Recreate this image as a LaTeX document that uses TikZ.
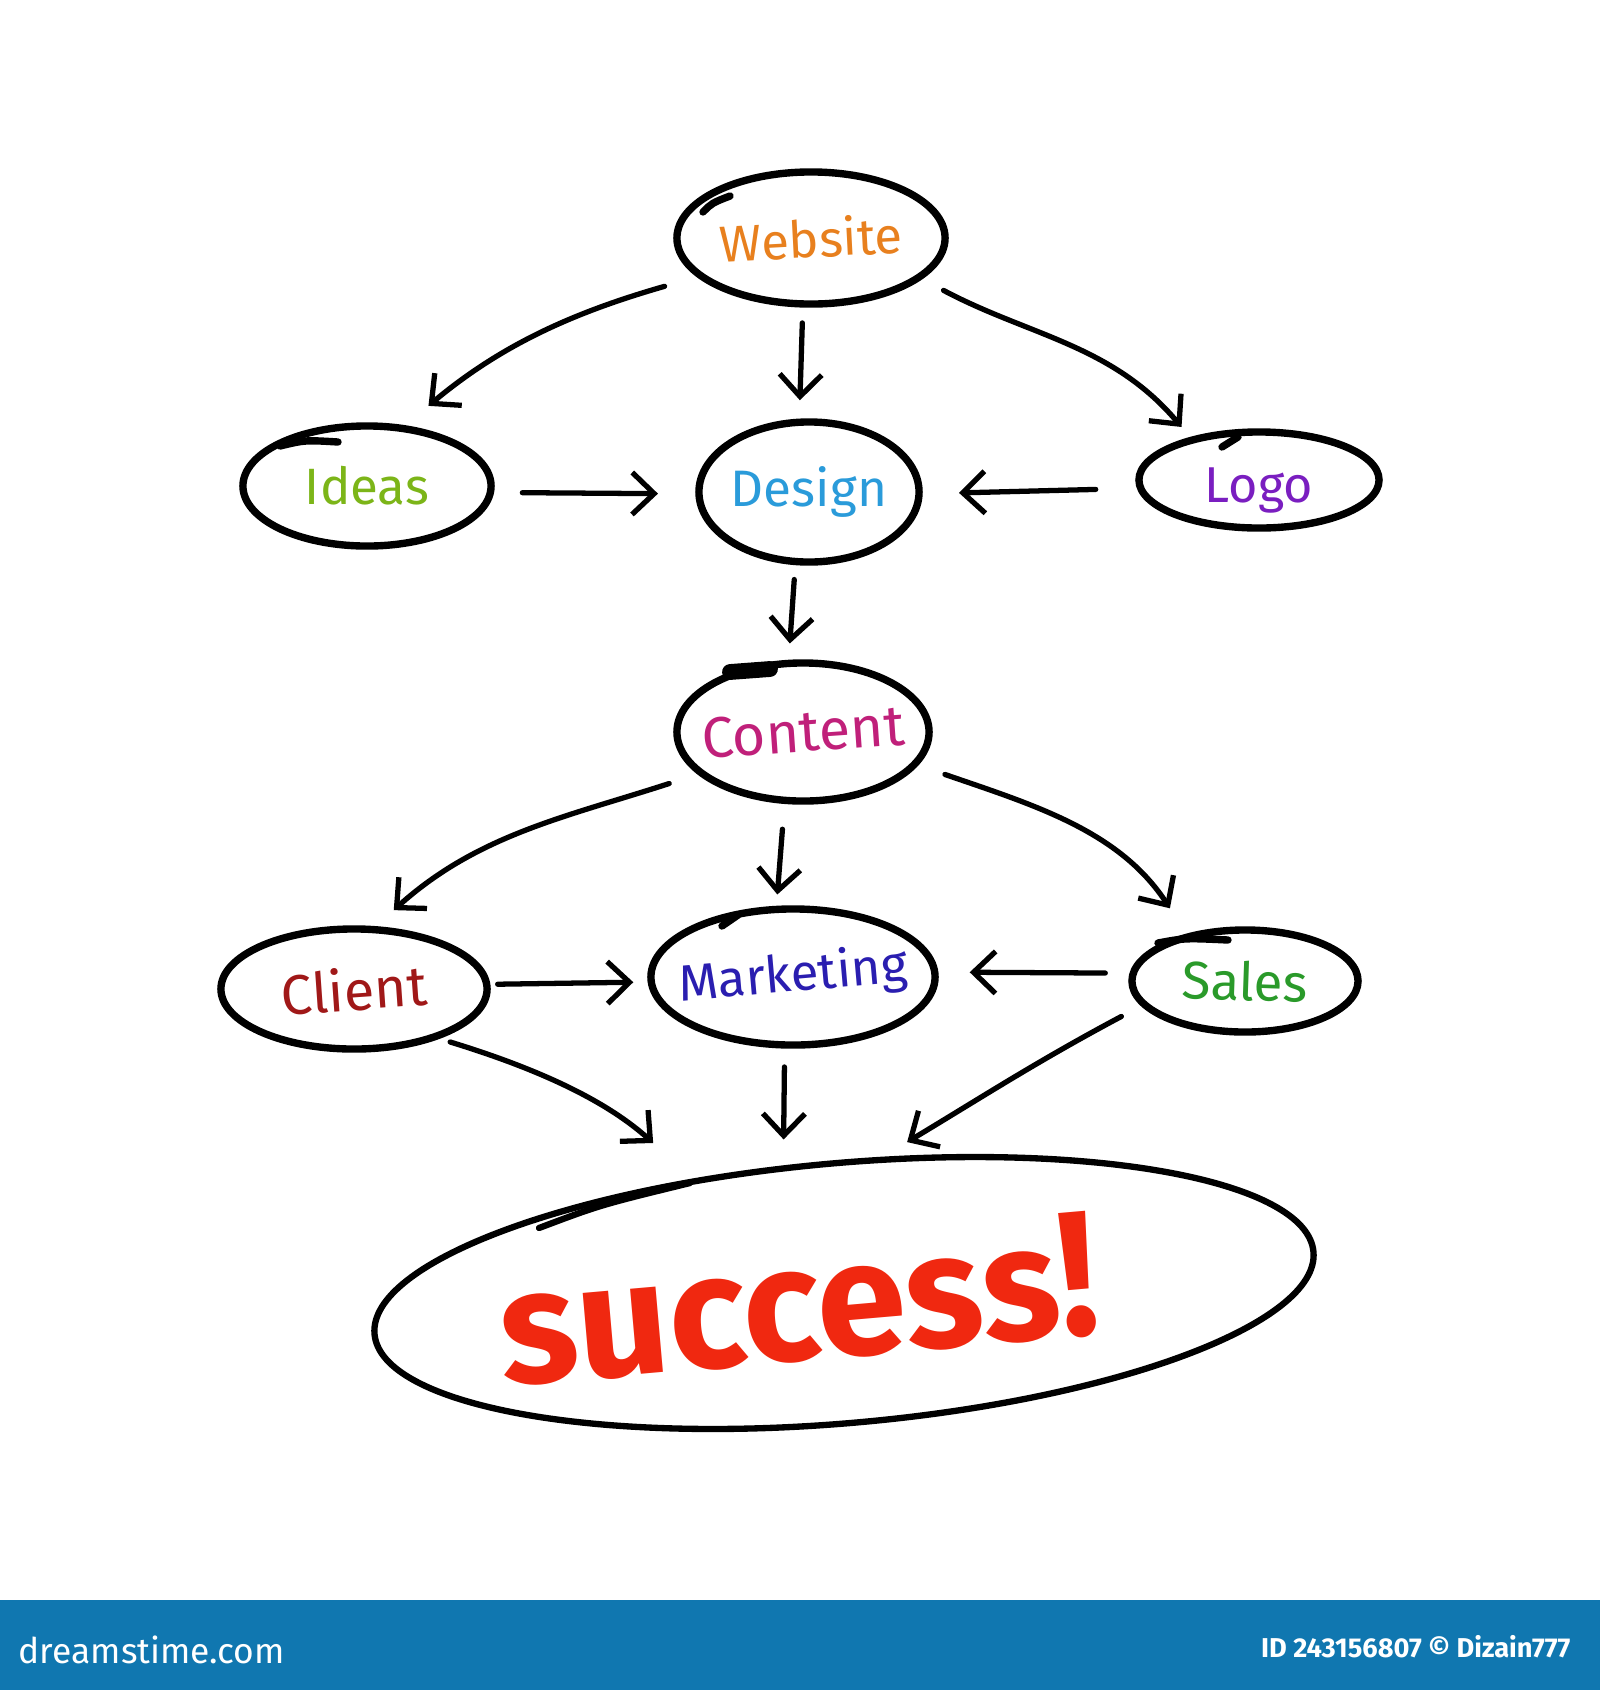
\documentclass[tikz,border=0pt]{standalone}
\usepackage{fontspec}
\setmainfont{Fira Sans}
\usetikzlibrary{arrows.meta,shapes.geometric}
\definecolor{cweb}{HTML}{E8801E}
\definecolor{cideas}{HTML}{7CB518}
\definecolor{cdesign}{HTML}{2A9BDA}
\definecolor{clogo}{HTML}{7A1EC0}
\definecolor{ccontent}{HTML}{C0207A}
\definecolor{cclient}{HTML}{A01818}
\definecolor{cmkt}{HTML}{2A1EB0}
\definecolor{csales}{HTML}{2A9A2A}
\definecolor{csucc}{HTML}{F02810}
\definecolor{cbanner}{HTML}{1077B0}
\newcommand{\ovtext}[3]{\makebox[0pt]{\rotatebox{#1}{\resizebox{#2}{!}{#3}}}}
\begin{document}
\begin{tikzpicture}[x=0.01cm,y=0.01cm,
  oval/.style={ellipse, draw=black, line width=2.1pt, inner sep=0pt, outer sep=0pt},
  arr/.style={line width=1.5pt, line cap=round, -{Straight Barb[length=0.22cm,width=0.42cm]}},
  stroke/.style={line width=2.1pt, line cap=round},
  banner/.style={text=white, inner sep=0pt}
]
\useasboundingbox (0,0) rectangle (1600,-1690);
\fill[white] (0,0) rectangle (1600,-1690);

% nodes
\node[oval, minimum width=2.68cm, minimum height=1.32cm, text=cweb] (web) at (811,-238) {\ovtext{3}{1.83cm}{Website}};
\node[oval, minimum width=2.48cm, minimum height=1.20cm, text=cideas] (ideas) at (367,-486) {\ovtext{0}{1.24cm}{Ideas}};
\node[oval, minimum width=2.20cm, minimum height=1.40cm, text=cdesign] (design) at (809,-492) {\ovtext{0}{1.56cm}{Design}};
\node[oval, minimum width=2.40cm, minimum height=0.96cm, text=clogo] (logo) at (1259,-480) {\raisebox{-0.1cm}[\height][\depth]{\ovtext{0}{1.08cm}{Logo}}};
\node[oval, minimum width=2.52cm, minimum height=1.38cm, text=ccontent] (content) at (803,-732) {\ovtext{4}{2.03cm}{Content}};
\node[oval, minimum width=2.66cm, minimum height=1.20cm, text=cclient] (client) at (354,-989) {\ovtext{4}{1.46cm}{Client}};
\node[oval, minimum width=2.84cm, minimum height=1.36cm, text=cmkt] (marketing) at (793,-977) {\ovtext{5}{2.29cm}{Marketing}};
\node[oval, minimum width=2.26cm, minimum height=1.02cm, text=csales] (sales) at (1245,-981) {\ovtext{-2}{1.26cm}{Sales}};
\node[oval, minimum width=9.42cm, minimum height=2.60cm, rotate=5, line width=1.8pt] (success) at (844,-1293) {};
\node[inner sep=0pt, text=csucc, rotate=5] (succtext) at (798,-1300) {\resizebox{6.0cm}{!}{\bfseries success\scalebox{1}[1.1]{!}}};

% hand-drawn overlaps
\draw[stroke] (703,-212) .. controls (712,-203) .. (730,-196);
\draw[stroke] (280,-446) .. controls (305,-440) .. (338,-442);
\draw[stroke] (1158,-943) .. controls (1185,-938) .. (1228,-940);
\draw[line width=4.5pt, line cap=round] (730,-672) -- (770,-669);
\draw[stroke] (722,-926) -- (738,-915);
\draw[stroke] (1222,-447) -- (1238,-437);
\draw[stroke, line width=1.8pt] (539,-1228) .. controls (600,-1205) .. (690,-1183);

% connectors
\draw[arr, shorten <=0.38cm, shorten >=0.35cm] (web.199) to[out=196,in=40] (ideas.59);
\draw[arr, shorten <=0.19cm, shorten >=0.22cm] (web.263) -- (design.98);
\draw[arr, shorten <=0.28cm, shorten >=0.17cm] (web.340) to[out=-28,in=130] (logo.149);
\draw[arr, shorten <=0.32cm, shorten >=0.41cm] (ideas.-3) -- (design.181);
\draw[arr, shorten <=0.45cm, shorten >=0.40cm] (logo.184) -- (design.-1);
\draw[arr, shorten <=0.18cm, shorten >=0.20cm] (design.259) -- (content.102);
\draw[arr, shorten <=0.34cm, shorten >=0.29cm] (content.202) to[out=198,in=42] (client.73);
\draw[arr, shorten <=0.29cm, shorten >=0.15cm] (content.255) -- (marketing.104);
\draw[arr, shorten <=0.32cm, shorten >=0.34cm] (content.-16) to[out=-19,in=123] (sales.142);
\draw[arr, shorten <=0.11cm, shorten >=0.18cm] (client.2) -- (marketing.182);
\draw[arr, shorten <=0.28cm, shorten >=0.35cm] (sales.176) -- (marketing.2);
\draw[arr, shorten <=0.17cm, shorten >=0.57cm] (client.-31) to[out=-17,in=138] (success.138);
\draw[arr, shorten <=0.22cm, shorten >=0.29cm] (marketing.263) -- (success.111);
\draw[arr, shorten <=0.26cm, shorten >=0.35cm] (sales.193) to[out=208,in=31] (success.71);

% banner
\fill[cbanner] (0,-1600) rectangle (1600,-1690);
\node[banner, anchor=west] (brand) at (18,-1650) {\resizebox{2.66cm}{!}{dreamstime.com}};
\node[banner, anchor=east] (credit) at (1571,-1647) {\resizebox{3.09cm}{!}{\bfseries ID 243156807 © Dizain777}};
\end{tikzpicture}
\end{document}
